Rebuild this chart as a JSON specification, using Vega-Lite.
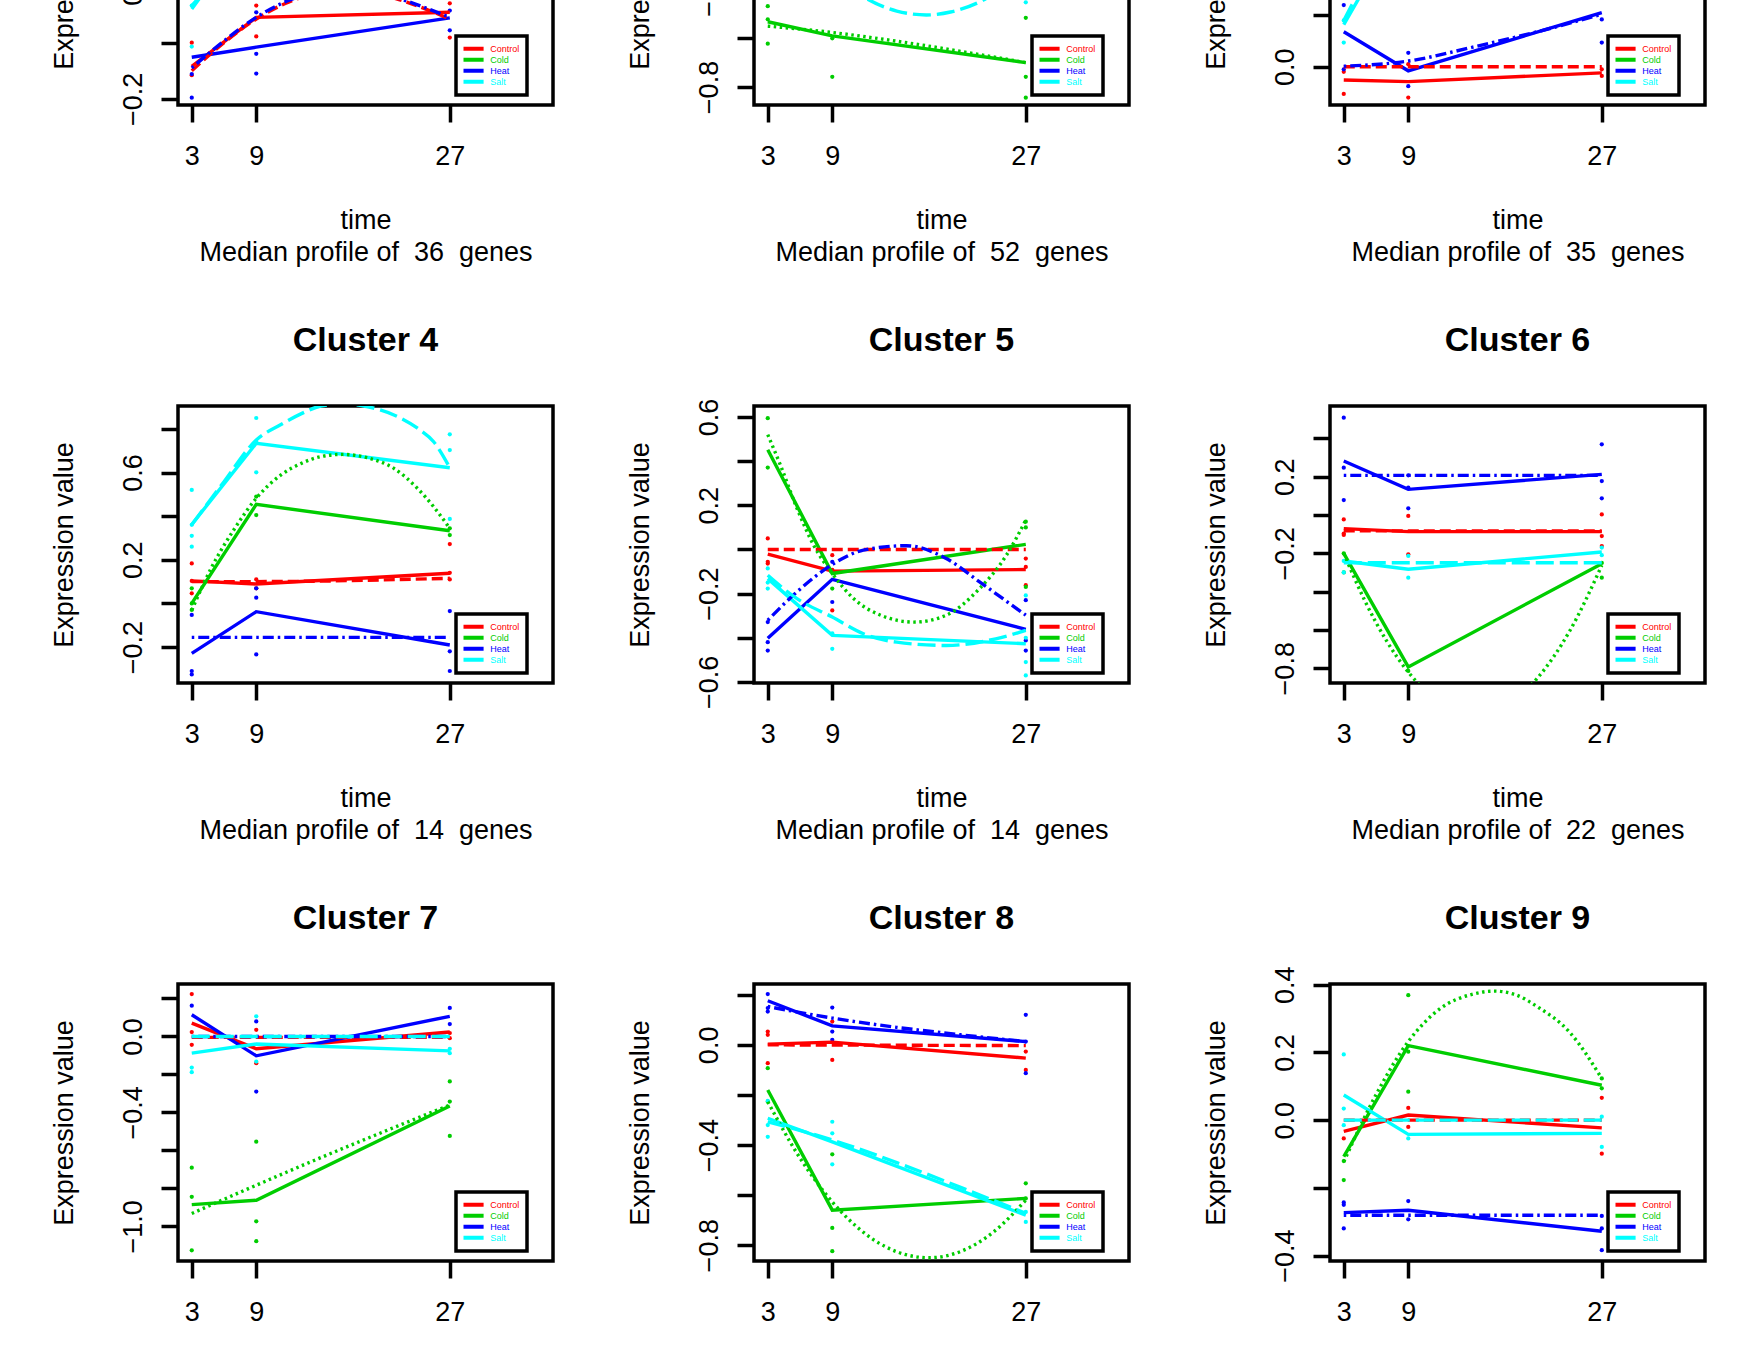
{
  "$schema": "https://vega.github.io/schema/vega-lite/v6.json",
  "background": "white",
  "padding": {"left": 48, "top": -256, "right": 59, "bottom": -31},
  "config": {
    "font": "Liberation Sans",
    "view": {"stroke": "black", "strokeWidth": 3.5},
    "title": {"font": "Liberation Sans", "fontSize": 34, "fontWeight": "bold", "color": "black", "anchor": "middle", "frame": "group", "baseline": "alphabetic", "offset": 48},
    "axis": {"domain": false, "grid": false, "tickSize": 17, "tickWidth": 3.5, "tickColor": "black", "labelFont": "Liberation Sans", "labelFontSize": 27, "labelColor": "black", "titleFont": "Liberation Sans", "titleFontSize": 27, "titleFontWeight": "normal", "titleColor": "black", "labelFlush": false, "labelOverlap": false},
    "axisX": {"labelPadding": 21, "titlePadding": 38, "titleLineHeight": 32},
    "axisY": {"labelAngle": -90, "labelAlign": "center", "labelBaseline": "alphabetic", "labelPadding": 20, "titlePadding": 40.6},
    "legend": {"orient": "none", "legendX": 278, "legendY": 208, "strokeColor": "black", "strokeWidth": 3.5, "fillColor": "white", "padding": 7.5, "symbolType": "M-3,0H7.8", "symbolSize": 16, "symbolStrokeWidth": 4, "labelFont": "Liberation Sans", "labelFontSize": 9, "labelOffset": 17.8, "rowPadding": 0, "clipHeight": 10.3}
  },
  "data": {"values": [
    {"c":1,"g":"Control","k":"mean","t":3,"v":-0.142},{"c":1,"g":"Control","k":"mean","t":9,"v":-0.055},{"c":1,"g":"Control","k":"mean","t":27,"v":-0.046},
    {"c":1,"g":"Cold","k":"mean","t":3,"v":0.06},{"c":1,"g":"Cold","k":"mean","t":9,"v":0.16},{"c":1,"g":"Cold","k":"mean","t":27,"v":0.12},
    {"c":1,"g":"Heat","k":"mean","t":3,"v":-0.126},{"c":1,"g":"Heat","k":"mean","t":9,"v":-0.108},{"c":1,"g":"Heat","k":"mean","t":27,"v":-0.056},
    {"c":1,"g":"Salt","k":"mean","t":3,"v":-0.034},{"c":1,"g":"Salt","k":"mean","t":9,"v":0.09},{"c":1,"g":"Salt","k":"mean","t":27,"v":0.05},
    {"c":1,"g":"Control","k":"fit","t":3,"v":-0.15},{"c":1,"g":"Control","k":"fit","t":6,"v":-0.1},{"c":1,"g":"Control","k":"fit","t":9,"v":-0.058},{"c":1,"g":"Control","k":"fit","t":12,"v":-0.028},{"c":1,"g":"Control","k":"fit","t":15,"v":-0.011},{"c":1,"g":"Control","k":"fit","t":17.5,"v":-0.007},{"c":1,"g":"Control","k":"fit","t":20,"v":-0.012},{"c":1,"g":"Control","k":"fit","t":23,"v":-0.028},{"c":1,"g":"Control","k":"fit","t":25,"v":-0.042},{"c":1,"g":"Control","k":"fit","t":27,"v":-0.058},
    {"c":1,"g":"Heat","k":"fit","t":3,"v":-0.145},{"c":1,"g":"Heat","k":"fit","t":6,"v":-0.097},{"c":1,"g":"Heat","k":"fit","t":9,"v":-0.055},{"c":1,"g":"Heat","k":"fit","t":12,"v":-0.025},{"c":1,"g":"Heat","k":"fit","t":15,"v":-0.009},{"c":1,"g":"Heat","k":"fit","t":17.5,"v":-0.005},{"c":1,"g":"Heat","k":"fit","t":20,"v":-0.01},{"c":1,"g":"Heat","k":"fit","t":23,"v":-0.026},{"c":1,"g":"Heat","k":"fit","t":25,"v":-0.04},{"c":1,"g":"Heat","k":"fit","t":27,"v":-0.055},
    {"c":1,"g":"Cold","k":"fit","t":3,"v":0.11},{"c":1,"g":"Cold","k":"fit","t":27,"v":0.11},
    {"c":1,"g":"Salt","k":"fit","t":3,"v":-0.04},{"c":1,"g":"Salt","k":"fit","t":9,"v":0.09},{"c":1,"g":"Salt","k":"fit","t":17,"v":0.14},{"c":1,"g":"Salt","k":"fit","t":27,"v":0.06},
    {"c":1,"g":"Control","k":"dot","t":3,"v":-0.1},{"c":1,"g":"Control","k":"dot","t":3,"v":-0.158},{"c":1,"g":"Control","k":"dot","t":9,"v":-0.034},{"c":1,"g":"Control","k":"dot","t":9,"v":-0.089},{"c":1,"g":"Control","k":"dot","t":27,"v":-0.091},{"c":1,"g":"Control","k":"dot","t":27,"v":-0.03},
    {"c":1,"g":"Heat","k":"dot","t":3,"v":-0.198},{"c":1,"g":"Heat","k":"dot","t":3,"v":-0.156},{"c":1,"g":"Heat","k":"dot","t":9,"v":-0.046},{"c":1,"g":"Heat","k":"dot","t":9,"v":-0.12},{"c":1,"g":"Heat","k":"dot","t":9,"v":-0.155},{"c":1,"g":"Heat","k":"dot","t":27,"v":-0.043},{"c":1,"g":"Heat","k":"dot","t":27,"v":-0.078},
    {"c":1,"g":"Salt","k":"dot","t":3,"v":-0.107},{"c":1,"g":"Salt","k":"dot","t":3,"v":-0.034},{"c":1,"g":"Salt","k":"dot","t":9,"v":0.1},{"c":1,"g":"Salt","k":"dot","t":27,"v":0.08},
    {"c":1,"g":"Cold","k":"dot","t":3,"v":0.05},{"c":1,"g":"Cold","k":"dot","t":3,"v":0.09},{"c":1,"g":"Cold","k":"dot","t":9,"v":0.15},{"c":1,"g":"Cold","k":"dot","t":27,"v":0.12},

    {"c":2,"g":"Control","k":"mean","t":3,"v":-0.47},{"c":2,"g":"Control","k":"mean","t":9,"v":-0.44},{"c":2,"g":"Control","k":"mean","t":27,"v":-0.46},
    {"c":2,"g":"Cold","k":"mean","t":3,"v":-0.666},{"c":2,"g":"Cold","k":"mean","t":9,"v":-0.695},{"c":2,"g":"Cold","k":"mean","t":27,"v":-0.75},
    {"c":2,"g":"Heat","k":"mean","t":3,"v":-0.38},{"c":2,"g":"Heat","k":"mean","t":9,"v":-0.42},{"c":2,"g":"Heat","k":"mean","t":27,"v":-0.36},
    {"c":2,"g":"Salt","k":"mean","t":3,"v":-0.41},{"c":2,"g":"Salt","k":"mean","t":9,"v":-0.56},{"c":2,"g":"Salt","k":"mean","t":27,"v":-0.55},
    {"c":2,"g":"Control","k":"fit","t":3,"v":-0.455},{"c":2,"g":"Control","k":"fit","t":27,"v":-0.455},
    {"c":2,"g":"Cold","k":"fit","t":3,"v":-0.675},{"c":2,"g":"Cold","k":"fit","t":9,"v":-0.688},{"c":2,"g":"Cold","k":"fit","t":15,"v":-0.706},{"c":2,"g":"Cold","k":"fit","t":21,"v":-0.727},{"c":2,"g":"Cold","k":"fit","t":27,"v":-0.75},
    {"c":2,"g":"Heat","k":"fit","t":3,"v":-0.39},{"c":2,"g":"Heat","k":"fit","t":27,"v":-0.39},
    {"c":2,"g":"Salt","k":"fit","t":3,"v":-0.41},{"c":2,"g":"Salt","k":"fit","t":6,"v":-0.5},{"c":2,"g":"Salt","k":"fit","t":9,"v":-0.567},{"c":2,"g":"Salt","k":"fit","t":12,"v":-0.616},{"c":2,"g":"Salt","k":"fit","t":15,"v":-0.644},{"c":2,"g":"Salt","k":"fit","t":17.75,"v":-0.652},{"c":2,"g":"Salt","k":"fit","t":20,"v":-0.646},{"c":2,"g":"Salt","k":"fit","t":23,"v":-0.622},{"c":2,"g":"Salt","k":"fit","t":25,"v":-0.594},{"c":2,"g":"Salt","k":"fit","t":27,"v":-0.558},
    {"c":2,"g":"Cold","k":"dot","t":3,"v":-0.634},{"c":2,"g":"Cold","k":"dot","t":3,"v":-0.661},{"c":2,"g":"Cold","k":"dot","t":3,"v":-0.711},{"c":2,"g":"Cold","k":"dot","t":9,"v":-0.7},{"c":2,"g":"Cold","k":"dot","t":9,"v":-0.779},{"c":2,"g":"Cold","k":"dot","t":27,"v":-0.658},{"c":2,"g":"Cold","k":"dot","t":27,"v":-0.779},{"c":2,"g":"Cold","k":"dot","t":27,"v":-0.822},
    {"c":2,"g":"Salt","k":"dot","t":3,"v":-0.38},{"c":2,"g":"Salt","k":"dot","t":9,"v":-0.55},{"c":2,"g":"Salt","k":"dot","t":27,"v":-0.626},{"c":2,"g":"Salt","k":"dot","t":27,"v":-0.5},
    {"c":2,"g":"Control","k":"dot","t":3,"v":-0.45},{"c":2,"g":"Control","k":"dot","t":9,"v":-0.43},{"c":2,"g":"Control","k":"dot","t":27,"v":-0.48},
    {"c":2,"g":"Heat","k":"dot","t":3,"v":-0.36},{"c":2,"g":"Heat","k":"dot","t":9,"v":-0.44},{"c":2,"g":"Heat","k":"dot","t":27,"v":-0.35},

    {"c":3,"g":"Control","k":"mean","t":3,"v":-0.026},{"c":3,"g":"Control","k":"mean","t":9,"v":-0.029},{"c":3,"g":"Control","k":"mean","t":27,"v":-0.012},
    {"c":3,"g":"Cold","k":"mean","t":3,"v":0.2},{"c":3,"g":"Cold","k":"mean","t":9,"v":0.35},{"c":3,"g":"Cold","k":"mean","t":27,"v":0.3},
    {"c":3,"g":"Heat","k":"mean","t":3,"v":0.068},{"c":3,"g":"Heat","k":"mean","t":9,"v":-0.008},{"c":3,"g":"Heat","k":"mean","t":27,"v":0.105},
    {"c":3,"g":"Salt","k":"mean","t":3,"v":0.082},{"c":3,"g":"Salt","k":"mean","t":9,"v":0.3},{"c":3,"g":"Salt","k":"mean","t":27,"v":0.25},
    {"c":3,"g":"Control","k":"fit","t":3,"v":0.0},{"c":3,"g":"Control","k":"fit","t":27,"v":0.0},
    {"c":3,"g":"Cold","k":"fit","t":3,"v":0.2},{"c":3,"g":"Cold","k":"fit","t":9,"v":0.34},{"c":3,"g":"Cold","k":"fit","t":17,"v":0.39},{"c":3,"g":"Cold","k":"fit","t":27,"v":0.3},
    {"c":3,"g":"Heat","k":"fit","t":3,"v":0.001},{"c":3,"g":"Heat","k":"fit","t":9,"v":0.011},{"c":3,"g":"Heat","k":"fit","t":15,"v":0.038},{"c":3,"g":"Heat","k":"fit","t":21,"v":0.068},{"c":3,"g":"Heat","k":"fit","t":27,"v":0.102},
    {"c":3,"g":"Salt","k":"fit","t":3,"v":0.09},{"c":3,"g":"Salt","k":"fit","t":9,"v":0.28},{"c":3,"g":"Salt","k":"fit","t":17,"v":0.34},{"c":3,"g":"Salt","k":"fit","t":27,"v":0.26},
    {"c":3,"g":"Control","k":"dot","t":3,"v":-0.053},{"c":3,"g":"Control","k":"dot","t":3,"v":-0.01},{"c":3,"g":"Control","k":"dot","t":9,"v":0.005},{"c":3,"g":"Control","k":"dot","t":9,"v":-0.06},{"c":3,"g":"Control","k":"dot","t":27,"v":-0.005},{"c":3,"g":"Control","k":"dot","t":27,"v":-0.018},
    {"c":3,"g":"Heat","k":"dot","t":3,"v":-0.005},{"c":3,"g":"Heat","k":"dot","t":3,"v":0.12},{"c":3,"g":"Heat","k":"dot","t":9,"v":0.027},{"c":3,"g":"Heat","k":"dot","t":9,"v":-0.038},{"c":3,"g":"Heat","k":"dot","t":27,"v":0.092},{"c":3,"g":"Heat","k":"dot","t":27,"v":0.047},
    {"c":3,"g":"Salt","k":"dot","t":3,"v":0.047},{"c":3,"g":"Salt","k":"dot","t":3,"v":0.09},{"c":3,"g":"Salt","k":"dot","t":9,"v":0.3},{"c":3,"g":"Salt","k":"dot","t":27,"v":0.25},
    {"c":3,"g":"Cold","k":"dot","t":3,"v":0.2},{"c":3,"g":"Cold","k":"dot","t":9,"v":0.35},{"c":3,"g":"Cold","k":"dot","t":27,"v":0.3},

    {"c":4,"g":"Control","k":"mean","t":3,"v":0.103},{"c":4,"g":"Control","k":"mean","t":9,"v":0.089},{"c":4,"g":"Control","k":"mean","t":27,"v":0.138},
    {"c":4,"g":"Cold","k":"mean","t":3,"v":0.0},{"c":4,"g":"Cold","k":"mean","t":9,"v":0.454},{"c":4,"g":"Cold","k":"mean","t":27,"v":0.333},
    {"c":4,"g":"Heat","k":"mean","t":3,"v":-0.229},{"c":4,"g":"Heat","k":"mean","t":9,"v":-0.038},{"c":4,"g":"Heat","k":"mean","t":27,"v":-0.191},
    {"c":4,"g":"Salt","k":"mean","t":3,"v":0.362},{"c":4,"g":"Salt","k":"mean","t":9,"v":0.734},{"c":4,"g":"Salt","k":"mean","t":27,"v":0.622},
    {"c":4,"g":"Control","k":"fit","t":3,"v":0.1},{"c":4,"g":"Control","k":"fit","t":9,"v":0.1},{"c":4,"g":"Control","k":"fit","t":27,"v":0.115},
    {"c":4,"g":"Cold","k":"fit","t":3,"v":-0.031},{"c":4,"g":"Cold","k":"fit","t":4.8,"v":0.161},{"c":4,"g":"Cold","k":"fit","t":7,"v":0.344},{"c":4,"g":"Cold","k":"fit","t":9,"v":0.482},{"c":4,"g":"Cold","k":"fit","t":11.3,"v":0.589},{"c":4,"g":"Cold","k":"fit","t":13.2,"v":0.642},{"c":4,"g":"Cold","k":"fit","t":15,"v":0.673},{"c":4,"g":"Cold","k":"fit","t":17,"v":0.683},{"c":4,"g":"Cold","k":"fit","t":19.3,"v":0.668},{"c":4,"g":"Cold","k":"fit","t":21.8,"v":0.619},{"c":4,"g":"Cold","k":"fit","t":24,"v":0.527},{"c":4,"g":"Cold","k":"fit","t":25.5,"v":0.443},{"c":4,"g":"Cold","k":"fit","t":27,"v":0.344},
    {"c":4,"g":"Heat","k":"fit","t":3,"v":-0.156},{"c":4,"g":"Heat","k":"fit","t":27,"v":-0.156},
    {"c":4,"g":"Salt","k":"fit","t":3,"v":0.36},{"c":4,"g":"Salt","k":"fit","t":6,"v":0.558},{"c":4,"g":"Salt","k":"fit","t":9,"v":0.749},{"c":4,"g":"Salt","k":"fit","t":11.3,"v":0.82},{"c":4,"g":"Salt","k":"fit","t":13.2,"v":0.87},{"c":4,"g":"Salt","k":"fit","t":15,"v":0.905},{"c":4,"g":"Salt","k":"fit","t":17,"v":0.915},{"c":4,"g":"Salt","k":"fit","t":19,"v":0.905},{"c":4,"g":"Salt","k":"fit","t":21.8,"v":0.864},{"c":4,"g":"Salt","k":"fit","t":24,"v":0.803},{"c":4,"g":"Salt","k":"fit","t":25.5,"v":0.741},{"c":4,"g":"Salt","k":"fit","t":27,"v":0.622},
    {"c":4,"g":"Control","k":"dot","t":3,"v":0.183},{"c":4,"g":"Control","k":"dot","t":3,"v":0.103},{"c":4,"g":"Control","k":"dot","t":3,"v":0.046},{"c":4,"g":"Control","k":"dot","t":9,"v":0.11},{"c":4,"g":"Control","k":"dot","t":9,"v":0.069},{"c":4,"g":"Control","k":"dot","t":27,"v":0.272},{"c":4,"g":"Control","k":"dot","t":27,"v":0.14},{"c":4,"g":"Control","k":"dot","t":27,"v":0.11},
    {"c":4,"g":"Cold","k":"dot","t":3,"v":0.069},{"c":4,"g":"Cold","k":"dot","t":3,"v":0.0},{"c":4,"g":"Cold","k":"dot","t":3,"v":-0.03},{"c":4,"g":"Cold","k":"dot","t":9,"v":0.49},{"c":4,"g":"Cold","k":"dot","t":9,"v":0.405},{"c":4,"g":"Cold","k":"dot","t":27,"v":0.344},{"c":4,"g":"Cold","k":"dot","t":27,"v":0.313},
    {"c":4,"g":"Heat","k":"dot","t":3,"v":-0.053},{"c":4,"g":"Heat","k":"dot","t":3,"v":-0.31},{"c":4,"g":"Heat","k":"dot","t":3,"v":-0.326},{"c":4,"g":"Heat","k":"dot","t":9,"v":0.069},{"c":4,"g":"Heat","k":"dot","t":9,"v":0.026},{"c":4,"g":"Heat","k":"dot","t":9,"v":-0.234},{"c":4,"g":"Heat","k":"dot","t":27,"v":-0.035},{"c":4,"g":"Heat","k":"dot","t":27,"v":-0.22},{"c":4,"g":"Heat","k":"dot","t":27,"v":-0.31},
    {"c":4,"g":"Salt","k":"dot","t":3,"v":0.52},{"c":4,"g":"Salt","k":"dot","t":3,"v":0.36},{"c":4,"g":"Salt","k":"dot","t":3,"v":0.31},{"c":4,"g":"Salt","k":"dot","t":3,"v":0.26},{"c":4,"g":"Salt","k":"dot","t":9,"v":0.85},{"c":4,"g":"Salt","k":"dot","t":9,"v":0.601},{"c":4,"g":"Salt","k":"dot","t":9,"v":0.74},{"c":4,"g":"Salt","k":"dot","t":27,"v":0.775},{"c":4,"g":"Salt","k":"dot","t":27,"v":0.703},{"c":4,"g":"Salt","k":"dot","t":27,"v":0.387},

    {"c":5,"g":"Control","k":"mean","t":3,"v":-0.021},{"c":5,"g":"Control","k":"mean","t":9,"v":-0.098},{"c":5,"g":"Control","k":"mean","t":27,"v":-0.091},
    {"c":5,"g":"Cold","k":"mean","t":3,"v":0.452},{"c":5,"g":"Cold","k":"mean","t":9,"v":-0.109},{"c":5,"g":"Cold","k":"mean","t":27,"v":0.023},
    {"c":5,"g":"Heat","k":"mean","t":3,"v":-0.402},{"c":5,"g":"Heat","k":"mean","t":9,"v":-0.135},{"c":5,"g":"Heat","k":"mean","t":27,"v":-0.362},
    {"c":5,"g":"Salt","k":"mean","t":3,"v":-0.132},{"c":5,"g":"Salt","k":"mean","t":9,"v":-0.389},{"c":5,"g":"Salt","k":"mean","t":27,"v":-0.427},
    {"c":5,"g":"Control","k":"fit","t":3,"v":0.0},{"c":5,"g":"Control","k":"fit","t":27,"v":0.0},
    {"c":5,"g":"Cold","k":"fit","t":3,"v":0.52},{"c":5,"g":"Cold","k":"fit","t":4.17,"v":0.383},{"c":5,"g":"Cold","k":"fit","t":5.72,"v":0.186},{"c":5,"g":"Cold","k":"fit","t":7.26,"v":0.02},{"c":5,"g":"Cold","k":"fit","t":9,"v":-0.109},{"c":5,"g":"Cold","k":"fit","t":11,"v":-0.223},{"c":5,"g":"Cold","k":"fit","t":13.5,"v":-0.298},{"c":5,"g":"Cold","k":"fit","t":16.6,"v":-0.329},{"c":5,"g":"Cold","k":"fit","t":19.6,"v":-0.298},{"c":5,"g":"Cold","k":"fit","t":22.7,"v":-0.177},{"c":5,"g":"Cold","k":"fit","t":25.2,"v":-0.026},{"c":5,"g":"Cold","k":"fit","t":27,"v":0.133},
    {"c":5,"g":"Heat","k":"fit","t":3,"v":-0.321},{"c":5,"g":"Heat","k":"fit","t":5.72,"v":-0.192},{"c":5,"g":"Heat","k":"fit","t":9,"v":-0.068},{"c":5,"g":"Heat","k":"fit","t":11.9,"v":-0.003},{"c":5,"g":"Heat","k":"fit","t":15.9,"v":0.017},{"c":5,"g":"Heat","k":"fit","t":19.6,"v":-0.041},{"c":5,"g":"Heat","k":"fit","t":22.7,"v":-0.147},{"c":5,"g":"Heat","k":"fit","t":27,"v":-0.298},
    {"c":5,"g":"Salt","k":"fit","t":3,"v":-0.117},{"c":5,"g":"Salt","k":"fit","t":5.72,"v":-0.223},{"c":5,"g":"Salt","k":"fit","t":9,"v":-0.306},{"c":5,"g":"Salt","k":"fit","t":11.9,"v":-0.382},{"c":5,"g":"Salt","k":"fit","t":15,"v":-0.42},{"c":5,"g":"Salt","k":"fit","t":19.6,"v":-0.435},{"c":5,"g":"Salt","k":"fit","t":24.2,"v":-0.405},{"c":5,"g":"Salt","k":"fit","t":27,"v":-0.367},
    {"c":5,"g":"Control","k":"dot","t":3,"v":0.05},{"c":5,"g":"Control","k":"dot","t":3,"v":-0.056},{"c":5,"g":"Control","k":"dot","t":3,"v":-0.064},{"c":5,"g":"Control","k":"dot","t":9,"v":-0.026},{"c":5,"g":"Control","k":"dot","t":9,"v":-0.092},{"c":5,"g":"Control","k":"dot","t":9,"v":-0.276},{"c":5,"g":"Control","k":"dot","t":27,"v":-0.041},{"c":5,"g":"Control","k":"dot","t":27,"v":-0.079},{"c":5,"g":"Control","k":"dot","t":27,"v":-0.162},
    {"c":5,"g":"Cold","k":"dot","t":3,"v":0.595},{"c":5,"g":"Cold","k":"dot","t":3,"v":0.371},{"c":5,"g":"Cold","k":"dot","t":9,"v":-0.177},{"c":5,"g":"Cold","k":"dot","t":9,"v":-0.1},{"c":5,"g":"Cold","k":"dot","t":27,"v":-0.17},{"c":5,"g":"Cold","k":"dot","t":27,"v":0.126},{"c":5,"g":"Cold","k":"dot","t":27,"v":0.1},
    {"c":5,"g":"Heat","k":"dot","t":3,"v":-0.329},{"c":5,"g":"Heat","k":"dot","t":3,"v":-0.42},{"c":5,"g":"Heat","k":"dot","t":3,"v":-0.458},{"c":5,"g":"Heat","k":"dot","t":9,"v":-0.056},{"c":5,"g":"Heat","k":"dot","t":9,"v":-0.238},{"c":5,"g":"Heat","k":"dot","t":27,"v":-0.23},{"c":5,"g":"Heat","k":"dot","t":27,"v":-0.412},{"c":5,"g":"Heat","k":"dot","t":27,"v":-0.458},
    {"c":5,"g":"Salt","k":"dot","t":3,"v":-0.086},{"c":5,"g":"Salt","k":"dot","t":3,"v":-0.177},{"c":5,"g":"Salt","k":"dot","t":3,"v":-0.15},{"c":5,"g":"Salt","k":"dot","t":9,"v":-0.45},{"c":5,"g":"Salt","k":"dot","t":9,"v":-0.38},{"c":5,"g":"Salt","k":"dot","t":27,"v":-0.51},{"c":5,"g":"Salt","k":"dot","t":27,"v":-0.571},{"c":5,"g":"Salt","k":"dot","t":27,"v":-0.208},{"c":5,"g":"Salt","k":"dot","t":27,"v":-0.4},

    {"c":6,"g":"Control","k":"mean","t":3,"v":-0.071},{"c":6,"g":"Control","k":"mean","t":9,"v":-0.087},{"c":6,"g":"Control","k":"mean","t":27,"v":-0.087},
    {"c":6,"g":"Cold","k":"mean","t":3,"v":-0.2},{"c":6,"g":"Cold","k":"mean","t":9,"v":-0.793},{"c":6,"g":"Cold","k":"mean","t":27,"v":-0.254},
    {"c":6,"g":"Heat","k":"mean","t":3,"v":0.282},{"c":6,"g":"Heat","k":"mean","t":9,"v":0.134},{"c":6,"g":"Heat","k":"mean","t":27,"v":0.212},
    {"c":6,"g":"Salt","k":"mean","t":3,"v":-0.24},{"c":6,"g":"Salt","k":"mean","t":9,"v":-0.283},{"c":6,"g":"Salt","k":"mean","t":27,"v":-0.193},
    {"c":6,"g":"Control","k":"fit","t":3,"v":-0.083},{"c":6,"g":"Control","k":"fit","t":27,"v":-0.083},
    {"c":6,"g":"Cold","k":"fit","t":3,"v":-0.2},{"c":6,"g":"Cold","k":"fit","t":5,"v":-0.452},{"c":6,"g":"Cold","k":"fit","t":7,"v":-0.659},{"c":6,"g":"Cold","k":"fit","t":9,"v":-0.82},{"c":6,"g":"Cold","k":"fit","t":12,"v":-0.98},{"c":6,"g":"Cold","k":"fit","t":15,"v":-1.038},{"c":6,"g":"Cold","k":"fit","t":18,"v":-0.996},{"c":6,"g":"Cold","k":"fit","t":21,"v":-0.852},{"c":6,"g":"Cold","k":"fit","t":24,"v":-0.607},{"c":6,"g":"Cold","k":"fit","t":27,"v":-0.263},
    {"c":6,"g":"Heat","k":"fit","t":3,"v":0.207},{"c":6,"g":"Heat","k":"fit","t":27,"v":0.207},
    {"c":6,"g":"Salt","k":"fit","t":3,"v":-0.249},{"c":6,"g":"Salt","k":"fit","t":27,"v":-0.249},
    {"c":6,"g":"Control","k":"dot","t":3,"v":-0.023},{"c":6,"g":"Control","k":"dot","t":3,"v":-0.097},{"c":6,"g":"Control","k":"dot","t":3,"v":-0.104},{"c":6,"g":"Control","k":"dot","t":9,"v":-0.005},{"c":6,"g":"Control","k":"dot","t":9,"v":-0.205},{"c":6,"g":"Control","k":"dot","t":27,"v":0.003},{"c":6,"g":"Control","k":"dot","t":27,"v":-0.11},{"c":6,"g":"Control","k":"dot","t":27,"v":-0.162},
    {"c":6,"g":"Cold","k":"dot","t":3,"v":-0.2},{"c":6,"g":"Cold","k":"dot","t":3,"v":-0.3},{"c":6,"g":"Cold","k":"dot","t":9,"v":-0.814},{"c":6,"g":"Cold","k":"dot","t":27,"v":-0.327},{"c":6,"g":"Cold","k":"dot","t":27,"v":-0.25},
    {"c":6,"g":"Heat","k":"dot","t":3,"v":0.508},{"c":6,"g":"Heat","k":"dot","t":3,"v":0.247},{"c":6,"g":"Heat","k":"dot","t":3,"v":0.078},{"c":6,"g":"Heat","k":"dot","t":9,"v":0.207},{"c":6,"g":"Heat","k":"dot","t":9,"v":0.143},{"c":6,"g":"Heat","k":"dot","t":9,"v":0.035},{"c":6,"g":"Heat","k":"dot","t":27,"v":0.369},{"c":6,"g":"Heat","k":"dot","t":27,"v":0.177},{"c":6,"g":"Heat","k":"dot","t":27,"v":0.087},
    {"c":6,"g":"Salt","k":"dot","t":3,"v":-0.3},{"c":6,"g":"Salt","k":"dot","t":3,"v":-0.24},{"c":6,"g":"Salt","k":"dot","t":9,"v":-0.327},{"c":6,"g":"Salt","k":"dot","t":9,"v":-0.214},{"c":6,"g":"Salt","k":"dot","t":27,"v":-0.17},{"c":6,"g":"Salt","k":"dot","t":27,"v":-0.21},

    {"c":7,"g":"Control","k":"mean","t":3,"v":0.07},{"c":7,"g":"Control","k":"mean","t":9,"v":-0.065},{"c":7,"g":"Control","k":"mean","t":27,"v":0.023},
    {"c":7,"g":"Cold","k":"mean","t":3,"v":-0.885},{"c":7,"g":"Cold","k":"mean","t":9,"v":-0.862},{"c":7,"g":"Cold","k":"mean","t":27,"v":-0.366},
    {"c":7,"g":"Heat","k":"mean","t":3,"v":0.114},{"c":7,"g":"Heat","k":"mean","t":9,"v":-0.102},{"c":7,"g":"Heat","k":"mean","t":27,"v":0.106},
    {"c":7,"g":"Salt","k":"mean","t":3,"v":-0.088},{"c":7,"g":"Salt","k":"mean","t":9,"v":-0.04},{"c":7,"g":"Salt","k":"mean","t":27,"v":-0.076},
    {"c":7,"g":"Control","k":"fit","t":3,"v":-0.005},{"c":7,"g":"Control","k":"fit","t":27,"v":-0.005},
    {"c":7,"g":"Cold","k":"fit","t":3,"v":-0.932},{"c":7,"g":"Cold","k":"fit","t":9,"v":-0.783},{"c":7,"g":"Cold","k":"fit","t":15,"v":-0.638},{"c":7,"g":"Cold","k":"fit","t":21,"v":-0.498},{"c":7,"g":"Cold","k":"fit","t":27,"v":-0.361},
    {"c":7,"g":"Heat","k":"fit","t":3,"v":0.0},{"c":7,"g":"Heat","k":"fit","t":27,"v":0.0},
    {"c":7,"g":"Salt","k":"fit","t":3,"v":0.0},{"c":7,"g":"Salt","k":"fit","t":27,"v":0.0},
    {"c":7,"g":"Control","k":"dot","t":3,"v":0.223},{"c":7,"g":"Control","k":"dot","t":3,"v":0.023},{"c":7,"g":"Control","k":"dot","t":3,"v":-0.044},{"c":7,"g":"Control","k":"dot","t":9,"v":0.035},{"c":7,"g":"Control","k":"dot","t":9,"v":-0.141},{"c":7,"g":"Control","k":"dot","t":27,"v":0.018},{"c":7,"g":"Control","k":"dot","t":27,"v":-0.009},
    {"c":7,"g":"Cold","k":"dot","t":3,"v":-0.691},{"c":7,"g":"Cold","k":"dot","t":3,"v":-0.844},{"c":7,"g":"Cold","k":"dot","t":3,"v":-1.126},{"c":7,"g":"Cold","k":"dot","t":9,"v":-0.554},{"c":7,"g":"Cold","k":"dot","t":9,"v":-0.973},{"c":7,"g":"Cold","k":"dot","t":9,"v":-1.078},{"c":7,"g":"Cold","k":"dot","t":27,"v":-0.237},{"c":7,"g":"Cold","k":"dot","t":27,"v":-0.343},{"c":7,"g":"Cold","k":"dot","t":27,"v":-0.524},
    {"c":7,"g":"Heat","k":"dot","t":3,"v":0.162},{"c":7,"g":"Heat","k":"dot","t":9,"v":0.079},{"c":7,"g":"Heat","k":"dot","t":9,"v":-0.29},{"c":7,"g":"Heat","k":"dot","t":27,"v":0.15},{"c":7,"g":"Heat","k":"dot","t":27,"v":0.065},
    {"c":7,"g":"Salt","k":"dot","t":3,"v":-0.164},{"c":7,"g":"Salt","k":"dot","t":3,"v":-0.188},{"c":7,"g":"Salt","k":"dot","t":9,"v":0.106},{"c":7,"g":"Salt","k":"dot","t":9,"v":-0.132},{"c":7,"g":"Salt","k":"dot","t":27,"v":-0.065},{"c":7,"g":"Salt","k":"dot","t":27,"v":-0.088},

    {"c":8,"g":"Control","k":"mean","t":3,"v":0.003},{"c":8,"g":"Control","k":"mean","t":9,"v":0.011},{"c":8,"g":"Control","k":"mean","t":27,"v":-0.053},
    {"c":8,"g":"Cold","k":"mean","t":3,"v":-0.18},{"c":8,"g":"Cold","k":"mean","t":9,"v":-0.66},{"c":8,"g":"Cold","k":"mean","t":27,"v":-0.613},
    {"c":8,"g":"Heat","k":"mean","t":3,"v":0.176},{"c":8,"g":"Heat","k":"mean","t":9,"v":0.076},{"c":8,"g":"Heat","k":"mean","t":27,"v":0.013},
    {"c":8,"g":"Salt","k":"mean","t":3,"v":-0.293},{"c":8,"g":"Salt","k":"mean","t":9,"v":-0.387},{"c":8,"g":"Salt","k":"mean","t":27,"v":-0.68},
    {"c":8,"g":"Control","k":"fit","t":3,"v":0.0},{"c":8,"g":"Control","k":"fit","t":27,"v":-0.003},
    {"c":8,"g":"Cold","k":"fit","t":3,"v":-0.227},{"c":8,"g":"Cold","k":"fit","t":6,"v":-0.452},{"c":8,"g":"Cold","k":"fit","t":9,"v":-0.627},{"c":8,"g":"Cold","k":"fit","t":12,"v":-0.752},{"c":8,"g":"Cold","k":"fit","t":15,"v":-0.826},{"c":8,"g":"Cold","k":"fit","t":18,"v":-0.85},{"c":8,"g":"Cold","k":"fit","t":21,"v":-0.824},{"c":8,"g":"Cold","k":"fit","t":24,"v":-0.747},{"c":8,"g":"Cold","k":"fit","t":27,"v":-0.62},
    {"c":8,"g":"Heat","k":"fit","t":3,"v":0.153},{"c":8,"g":"Heat","k":"fit","t":9,"v":0.107},{"c":8,"g":"Heat","k":"fit","t":15,"v":0.07},{"c":8,"g":"Heat","k":"fit","t":21,"v":0.04},{"c":8,"g":"Heat","k":"fit","t":27,"v":0.013},
    {"c":8,"g":"Salt","k":"fit","t":3,"v":-0.307},{"c":8,"g":"Salt","k":"fit","t":9,"v":-0.38},{"c":8,"g":"Salt","k":"fit","t":15,"v":-0.47},{"c":8,"g":"Salt","k":"fit","t":21,"v":-0.57},{"c":8,"g":"Salt","k":"fit","t":27,"v":-0.673},
    {"c":8,"g":"Control","k":"dot","t":3,"v":0.053},{"c":8,"g":"Control","k":"dot","t":3,"v":0.04},{"c":8,"g":"Control","k":"dot","t":3,"v":-0.073},{"c":8,"g":"Control","k":"dot","t":9,"v":0.093},{"c":8,"g":"Control","k":"dot","t":9,"v":-0.06},{"c":8,"g":"Control","k":"dot","t":27,"v":-0.027},{"c":8,"g":"Control","k":"dot","t":27,"v":-0.1},
    {"c":8,"g":"Cold","k":"dot","t":3,"v":-0.093},{"c":8,"g":"Cold","k":"dot","t":3,"v":-0.227},{"c":8,"g":"Cold","k":"dot","t":9,"v":-0.437},{"c":8,"g":"Cold","k":"dot","t":9,"v":-0.731},{"c":8,"g":"Cold","k":"dot","t":9,"v":-0.824},{"c":8,"g":"Cold","k":"dot","t":27,"v":-0.553},{"c":8,"g":"Cold","k":"dot","t":27,"v":-0.613},
    {"c":8,"g":"Heat","k":"dot","t":3,"v":0.203},{"c":8,"g":"Heat","k":"dot","t":3,"v":0.133},{"c":8,"g":"Heat","k":"dot","t":3,"v":0.147},{"c":8,"g":"Heat","k":"dot","t":9,"v":0.149},{"c":8,"g":"Heat","k":"dot","t":9,"v":0.053},{"c":8,"g":"Heat","k":"dot","t":9,"v":0.02},{"c":8,"g":"Heat","k":"dot","t":27,"v":0.12},{"c":8,"g":"Heat","k":"dot","t":27,"v":-0.113},{"c":8,"g":"Heat","k":"dot","t":27,"v":0.013},
    {"c":8,"g":"Salt","k":"dot","t":3,"v":-0.224},{"c":8,"g":"Salt","k":"dot","t":3,"v":-0.32},{"c":8,"g":"Salt","k":"dot","t":3,"v":-0.367},{"c":8,"g":"Salt","k":"dot","t":9,"v":-0.307},{"c":8,"g":"Salt","k":"dot","t":9,"v":-0.353},{"c":8,"g":"Salt","k":"dot","t":9,"v":-0.477},{"c":8,"g":"Salt","k":"dot","t":27,"v":-0.667},{"c":8,"g":"Salt","k":"dot","t":27,"v":-0.707},

    {"c":9,"g":"Control","k":"mean","t":3,"v":-0.033},{"c":9,"g":"Control","k":"mean","t":9,"v":0.015},{"c":9,"g":"Control","k":"mean","t":27,"v":-0.023},
    {"c":9,"g":"Cold","k":"mean","t":3,"v":-0.108},{"c":9,"g":"Cold","k":"mean","t":9,"v":0.22},{"c":9,"g":"Cold","k":"mean","t":27,"v":0.103},
    {"c":9,"g":"Heat","k":"mean","t":3,"v":-0.273},{"c":9,"g":"Heat","k":"mean","t":9,"v":-0.266},{"c":9,"g":"Heat","k":"mean","t":27,"v":-0.328},
    {"c":9,"g":"Salt","k":"mean","t":3,"v":0.074},{"c":9,"g":"Salt","k":"mean","t":9,"v":-0.042},{"c":9,"g":"Salt","k":"mean","t":27,"v":-0.039},
    {"c":9,"g":"Control","k":"fit","t":3,"v":0.0},{"c":9,"g":"Control","k":"fit","t":27,"v":0.0},
    {"c":9,"g":"Cold","k":"fit","t":3,"v":-0.123},{"c":9,"g":"Cold","k":"fit","t":6,"v":0.075},{"c":9,"g":"Cold","k":"fit","t":9,"v":0.232},{"c":9,"g":"Cold","k":"fit","t":12,"v":0.33},{"c":9,"g":"Cold","k":"fit","t":15,"v":0.372},{"c":9,"g":"Cold","k":"fit","t":17,"v":0.381},{"c":9,"g":"Cold","k":"fit","t":19,"v":0.37},{"c":9,"g":"Cold","k":"fit","t":21,"v":0.335},{"c":9,"g":"Cold","k":"fit","t":24,"v":0.26},{"c":9,"g":"Cold","k":"fit","t":27,"v":0.123},
    {"c":9,"g":"Heat","k":"fit","t":3,"v":-0.281},{"c":9,"g":"Heat","k":"fit","t":27,"v":-0.281},
    {"c":9,"g":"Salt","k":"fit","t":3,"v":0.0},{"c":9,"g":"Salt","k":"fit","t":27,"v":0.0},
    {"c":9,"g":"Control","k":"dot","t":3,"v":-0.054},{"c":9,"g":"Control","k":"dot","t":9,"v":0.036},{"c":9,"g":"Control","k":"dot","t":9,"v":-0.02},{"c":9,"g":"Control","k":"dot","t":27,"v":0.066},{"c":9,"g":"Control","k":"dot","t":27,"v":-0.099},
    {"c":9,"g":"Cold","k":"dot","t":3,"v":-0.121},{"c":9,"g":"Cold","k":"dot","t":3,"v":-0.177},{"c":9,"g":"Cold","k":"dot","t":9,"v":0.369},{"c":9,"g":"Cold","k":"dot","t":9,"v":0.202},{"c":9,"g":"Cold","k":"dot","t":9,"v":0.084},{"c":9,"g":"Cold","k":"dot","t":27,"v":0.123},{"c":9,"g":"Cold","k":"dot","t":27,"v":0.094},
    {"c":9,"g":"Heat","k":"dot","t":3,"v":-0.243},{"c":9,"g":"Heat","k":"dot","t":3,"v":-0.25},{"c":9,"g":"Heat","k":"dot","t":3,"v":-0.32},{"c":9,"g":"Heat","k":"dot","t":9,"v":-0.239},{"c":9,"g":"Heat","k":"dot","t":9,"v":-0.293},{"c":9,"g":"Heat","k":"dot","t":27,"v":-0.283},{"c":9,"g":"Heat","k":"dot","t":27,"v":-0.32},{"c":9,"g":"Heat","k":"dot","t":27,"v":-0.384},
    {"c":9,"g":"Salt","k":"dot","t":3,"v":0.194},{"c":9,"g":"Salt","k":"dot","t":3,"v":0.034},{"c":9,"g":"Salt","k":"dot","t":3,"v":-0.015},{"c":9,"g":"Salt","k":"dot","t":9,"v":-0.054},{"c":9,"g":"Salt","k":"dot","t":27,"v":0.01},{"c":9,"g":"Salt","k":"dot","t":27,"v":-0.079}
  ]},
  "columns": 3,
  "spacing": {"row": 301, "column": 201},
  "bounds": "flush",
  "resolve": {"scale": {"x": "independent", "y": "independent"}, "legend": {"color": "independent"}},
  "concat": [
    {"title": "Cluster 1", "width": 375, "height": 277, "transform": [{"filter": "datum.c == 1"}],
     "encoding": {
       "x": {"field": "t", "type": "quantitative", "scale": {"domain": [1.72, 36.6], "nice": false, "zero": false}, "axis": {"values": [3, 9, 27], "title": ["time", "Median profile of\u00a0 36\u00a0 genes"]}},
       "y": {"field": "v", "type": "quantitative", "scale": {"domain": [-0.211, 0.282], "nice": false, "zero": false}, "axis": {"title": "Expression value", "values": [-0.2, -0.1, 0, 0.1, 0.2], "format": ".1f", "labelExpr": "datum.value == -0.2 || datum.value == 0 || datum.value == 0.2 ? datum.label : ''"}},
       "color": {"field": "g", "type": "nominal", "scale": {"domain": ["Control", "Cold", "Heat", "Salt"], "range": ["#ff0000", "#00cd00", "#0000ff", "#00ffff"]}, "legend": {"title": null, "labelColor": {"expr": "datum.value == 'Control' ? '#ff0000' : datum.value == 'Cold' ? '#00cd00' : datum.value == 'Heat' ? '#0000ff' : '#00ffff'"}}}
     },
     "layer": [
       {"transform": [{"filter": "datum.k == 'dot'"}], "mark": {"type": "circle", "size": 18, "opacity": 1, "clip": true}},
       {"transform": [{"filter": "datum.k == 'mean'"}], "mark": {"type": "line", "strokeWidth": 3.4, "clip": true}},
       {"transform": [{"filter": "datum.k == 'fit'"}], "mark": {"type": "line", "interpolate": "monotone", "strokeWidth": 3.4, "clip": true}, "encoding": {"strokeDash": {"field": "g", "type": "nominal", "scale": {"domain": ["Control", "Cold", "Heat", "Salt"], "range": [[11, 5], [2.5, 3.5], [2.5, 4, 11, 4], [18, 6]]}, "legend": null}}}
     ]},
    {"title": "Cluster 2", "width": 375, "height": 277, "transform": [{"filter": "datum.c == 2"}],
     "encoding": {
       "x": {"field": "t", "type": "quantitative", "scale": {"domain": [1.72, 36.6], "nice": false, "zero": false}, "axis": {"values": [3, 9, 27], "title": ["time", "Median profile of\u00a0 52\u00a0 genes"]}},
       "y": {"field": "v", "type": "quantitative", "scale": {"domain": [-0.837, -0.268], "nice": false, "zero": false}, "axis": {"title": "Expression value", "values": [-0.8, -0.7, -0.6, -0.5, -0.4, -0.3], "format": ".1f", "labelExpr": "datum.value == -0.8 || datum.value == -0.6 || datum.value == -0.4 ? datum.label : ''"}},
       "color": {"field": "g", "type": "nominal", "scale": {"domain": ["Control", "Cold", "Heat", "Salt"], "range": ["#ff0000", "#00cd00", "#0000ff", "#00ffff"]}, "legend": {"title": null, "labelColor": {"expr": "datum.value == 'Control' ? '#ff0000' : datum.value == 'Cold' ? '#00cd00' : datum.value == 'Heat' ? '#0000ff' : '#00ffff'"}}}
     },
     "layer": [
       {"transform": [{"filter": "datum.k == 'dot'"}], "mark": {"type": "circle", "size": 18, "opacity": 1, "clip": true}},
       {"transform": [{"filter": "datum.k == 'mean'"}], "mark": {"type": "line", "strokeWidth": 3.4, "clip": true}},
       {"transform": [{"filter": "datum.k == 'fit'"}], "mark": {"type": "line", "interpolate": "monotone", "strokeWidth": 3.4, "clip": true}, "encoding": {"strokeDash": {"field": "g", "type": "nominal", "scale": {"domain": ["Control", "Cold", "Heat", "Salt"], "range": [[11, 5], [2.5, 3.5], [2.5, 4, 11, 4], [18, 6]]}, "legend": null}}}
     ]},
    {"title": "Cluster 3", "width": 375, "height": 277, "transform": [{"filter": "datum.c == 3"}],
     "encoding": {
       "x": {"field": "t", "type": "quantitative", "scale": {"domain": [1.72, 36.6], "nice": false, "zero": false}, "axis": {"values": [3, 9, 27], "title": ["time", "Median profile of\u00a0 35\u00a0 genes"]}},
       "y": {"field": "v", "type": "quantitative", "scale": {"domain": [-0.0745, 0.4644], "nice": false, "zero": false}, "axis": {"title": "Expression value", "values": [0, 0.1, 0.2, 0.3, 0.4], "format": ".1f", "labelExpr": "datum.value == 0 || datum.value == 0.2 || datum.value == 0.4 ? datum.label : ''"}},
       "color": {"field": "g", "type": "nominal", "scale": {"domain": ["Control", "Cold", "Heat", "Salt"], "range": ["#ff0000", "#00cd00", "#0000ff", "#00ffff"]}, "legend": {"title": null, "labelColor": {"expr": "datum.value == 'Control' ? '#ff0000' : datum.value == 'Cold' ? '#00cd00' : datum.value == 'Heat' ? '#0000ff' : '#00ffff'"}}}
     },
     "layer": [
       {"transform": [{"filter": "datum.k == 'dot'"}], "mark": {"type": "circle", "size": 18, "opacity": 1, "clip": true}},
       {"transform": [{"filter": "datum.k == 'mean'"}], "mark": {"type": "line", "strokeWidth": 3.4, "clip": true}},
       {"transform": [{"filter": "datum.k == 'fit'"}], "mark": {"type": "line", "interpolate": "monotone", "strokeWidth": 3.4, "clip": true}, "encoding": {"strokeDash": {"field": "g", "type": "nominal", "scale": {"domain": ["Control", "Cold", "Heat", "Salt"], "range": [[11, 5], [2.5, 3.5], [2.5, 4, 11, 4], [18, 6]]}, "legend": null}}}
     ]},
    {"title": "Cluster 4", "width": 375, "height": 277, "transform": [{"filter": "datum.c == 4"}],
     "encoding": {
       "x": {"field": "t", "type": "quantitative", "scale": {"domain": [1.72, 36.6], "nice": false, "zero": false}, "axis": {"values": [3, 9, 27], "title": ["time", "Median profile of\u00a0 14\u00a0 genes"]}},
       "y": {"field": "v", "type": "quantitative", "scale": {"domain": [-0.365, 0.905], "nice": false, "zero": false}, "axis": {"title": "Expression value", "values": [-0.2, 0, 0.2, 0.4, 0.6, 0.8], "format": ".1f", "labelExpr": "datum.value == -0.2 || datum.value == 0.2 || datum.value == 0.6 ? datum.label : ''"}},
       "color": {"field": "g", "type": "nominal", "scale": {"domain": ["Control", "Cold", "Heat", "Salt"], "range": ["#ff0000", "#00cd00", "#0000ff", "#00ffff"]}, "legend": {"title": null, "labelColor": {"expr": "datum.value == 'Control' ? '#ff0000' : datum.value == 'Cold' ? '#00cd00' : datum.value == 'Heat' ? '#0000ff' : '#00ffff'"}}}
     },
     "layer": [
       {"transform": [{"filter": "datum.k == 'dot'"}], "mark": {"type": "circle", "size": 18, "opacity": 1, "clip": true}},
       {"transform": [{"filter": "datum.k == 'mean'"}], "mark": {"type": "line", "strokeWidth": 3.4, "clip": true}},
       {"transform": [{"filter": "datum.k == 'fit'"}], "mark": {"type": "line", "interpolate": "monotone", "strokeWidth": 3.4, "clip": true}, "encoding": {"strokeDash": {"field": "g", "type": "nominal", "scale": {"domain": ["Control", "Cold", "Heat", "Salt"], "range": [[11, 5], [2.5, 3.5], [2.5, 4, 11, 4], [18, 6]]}, "legend": null}}}
     ]},
    {"title": {"text": "Cluster 5", "offset": 40}, "width": 375, "height": 277, "transform": [{"filter": "datum.c == 5"}],
     "encoding": {
       "x": {"field": "t", "type": "quantitative", "scale": {"domain": [1.72, 36.6], "nice": false, "zero": false}, "axis": {"values": [3, 9, 27], "title": ["time", "Median profile of\u00a0 14\u00a0 genes"]}},
       "y": {"field": "v", "type": "quantitative", "scale": {"domain": [-0.605, 0.65], "nice": false, "zero": false}, "axis": {"title": "Expression value", "values": [-0.6, -0.4, -0.2, 0, 0.2, 0.4, 0.6], "format": ".1f", "labelExpr": "datum.value == -0.6 || datum.value == -0.2 || datum.value == 0.2 || datum.value == 0.6 ? datum.label : ''"}},
       "color": {"field": "g", "type": "nominal", "scale": {"domain": ["Control", "Cold", "Heat", "Salt"], "range": ["#ff0000", "#00cd00", "#0000ff", "#00ffff"]}, "legend": {"title": null, "labelColor": {"expr": "datum.value == 'Control' ? '#ff0000' : datum.value == 'Cold' ? '#00cd00' : datum.value == 'Heat' ? '#0000ff' : '#00ffff'"}}}
     },
     "layer": [
       {"transform": [{"filter": "datum.k == 'dot'"}], "mark": {"type": "circle", "size": 18, "opacity": 1, "clip": true}},
       {"transform": [{"filter": "datum.k == 'mean'"}], "mark": {"type": "line", "strokeWidth": 3.4, "clip": true}},
       {"transform": [{"filter": "datum.k == 'fit'"}], "mark": {"type": "line", "interpolate": "monotone", "strokeWidth": 3.4, "clip": true}, "encoding": {"strokeDash": {"field": "g", "type": "nominal", "scale": {"domain": ["Control", "Cold", "Heat", "Salt"], "range": [[11, 5], [2.5, 3.5], [2.5, 4, 11, 4], [18, 6]]}, "legend": null}}}
     ]},
    {"title": "Cluster 6", "width": 375, "height": 277, "transform": [{"filter": "datum.c == 6"}],
     "encoding": {
       "x": {"field": "t", "type": "quantitative", "scale": {"domain": [1.72, 36.6], "nice": false, "zero": false}, "axis": {"values": [3, 9, 27], "title": ["time", "Median profile of\u00a0 22\u00a0 genes"]}},
       "y": {"field": "v", "type": "quantitative", "scale": {"domain": [-0.877, 0.569], "nice": false, "zero": false}, "axis": {"title": "Expression value", "values": [-0.8, -0.6, -0.4, -0.2, 0, 0.2, 0.4], "format": ".1f", "labelExpr": "datum.value == -0.8 || datum.value == -0.2 || datum.value == 0.2 ? datum.label : ''"}},
       "color": {"field": "g", "type": "nominal", "scale": {"domain": ["Control", "Cold", "Heat", "Salt"], "range": ["#ff0000", "#00cd00", "#0000ff", "#00ffff"]}, "legend": {"title": null, "labelColor": {"expr": "datum.value == 'Control' ? '#ff0000' : datum.value == 'Cold' ? '#00cd00' : datum.value == 'Heat' ? '#0000ff' : '#00ffff'"}}}
     },
     "layer": [
       {"transform": [{"filter": "datum.k == 'dot'"}], "mark": {"type": "circle", "size": 18, "opacity": 1, "clip": true}},
       {"transform": [{"filter": "datum.k == 'mean'"}], "mark": {"type": "line", "strokeWidth": 3.4, "clip": true}},
       {"transform": [{"filter": "datum.k == 'fit'"}], "mark": {"type": "line", "interpolate": "monotone", "strokeWidth": 3.4, "clip": true}, "encoding": {"strokeDash": {"field": "g", "type": "nominal", "scale": {"domain": ["Control", "Cold", "Heat", "Salt"], "range": [[11, 5], [2.5, 3.5], [2.5, 4, 11, 4], [18, 6]]}, "legend": null}}}
     ]},
    {"title": "Cluster 7", "width": 375, "height": 277, "transform": [{"filter": "datum.c == 7"}],
     "encoding": {
       "x": {"field": "t", "type": "quantitative", "scale": {"domain": [1.72, 36.6], "nice": false, "zero": false}, "axis": {"values": [3, 9, 27], "title": "time"}},
       "y": {"field": "v", "type": "quantitative", "scale": {"domain": [-1.182, 0.276], "nice": false, "zero": false}, "axis": {"title": "Expression value", "values": [-1.0, -0.8, -0.6, -0.4, -0.2, 0, 0.2], "format": ".1f", "labelExpr": "datum.value == -1 || datum.value == -0.4 || datum.value == 0 ? datum.label : ''"}},
       "color": {"field": "g", "type": "nominal", "scale": {"domain": ["Control", "Cold", "Heat", "Salt"], "range": ["#ff0000", "#00cd00", "#0000ff", "#00ffff"]}, "legend": {"title": null, "labelColor": {"expr": "datum.value == 'Control' ? '#ff0000' : datum.value == 'Cold' ? '#00cd00' : datum.value == 'Heat' ? '#0000ff' : '#00ffff'"}}}
     },
     "layer": [
       {"transform": [{"filter": "datum.k == 'dot'"}], "mark": {"type": "circle", "size": 18, "opacity": 1, "clip": true}},
       {"transform": [{"filter": "datum.k == 'mean'"}], "mark": {"type": "line", "strokeWidth": 3.4, "clip": true}},
       {"transform": [{"filter": "datum.k == 'fit'"}], "mark": {"type": "line", "interpolate": "monotone", "strokeWidth": 3.4, "clip": true}, "encoding": {"strokeDash": {"field": "g", "type": "nominal", "scale": {"domain": ["Control", "Cold", "Heat", "Salt"], "range": [[11, 5], [2.5, 3.5], [2.5, 4, 11, 4], [18, 6]]}, "legend": null}}}
     ]},
    {"title": "Cluster 8", "width": 375, "height": 277, "transform": [{"filter": "datum.c == 8"}],
     "encoding": {
       "x": {"field": "t", "type": "quantitative", "scale": {"domain": [1.72, 36.6], "nice": false, "zero": false}, "axis": {"values": [3, 9, 27], "title": "time"}},
       "y": {"field": "v", "type": "quantitative", "scale": {"domain": [-0.863, 0.243], "nice": false, "zero": false}, "axis": {"title": "Expression value", "values": [-0.8, -0.6, -0.4, -0.2, 0, 0.2], "format": ".1f", "labelExpr": "datum.value == -0.8 || datum.value == -0.4 || datum.value == 0 ? datum.label : ''"}},
       "color": {"field": "g", "type": "nominal", "scale": {"domain": ["Control", "Cold", "Heat", "Salt"], "range": ["#ff0000", "#00cd00", "#0000ff", "#00ffff"]}, "legend": {"title": null, "labelColor": {"expr": "datum.value == 'Control' ? '#ff0000' : datum.value == 'Cold' ? '#00cd00' : datum.value == 'Heat' ? '#0000ff' : '#00ffff'"}}}
     },
     "layer": [
       {"transform": [{"filter": "datum.k == 'dot'"}], "mark": {"type": "circle", "size": 18, "opacity": 1, "clip": true}},
       {"transform": [{"filter": "datum.k == 'mean'"}], "mark": {"type": "line", "strokeWidth": 3.4, "clip": true}},
       {"transform": [{"filter": "datum.k == 'fit'"}], "mark": {"type": "line", "interpolate": "monotone", "strokeWidth": 3.4, "clip": true}, "encoding": {"strokeDash": {"field": "g", "type": "nominal", "scale": {"domain": ["Control", "Cold", "Heat", "Salt"], "range": [[11, 5], [2.5, 3.5], [2.5, 4, 11, 4], [18, 6]]}, "legend": null}}}
     ]},
    {"title": {"text": "Cluster 9", "offset": 30}, "width": 375, "height": 277, "transform": [{"filter": "datum.c == 9"}],
     "encoding": {
       "x": {"field": "t", "type": "quantitative", "scale": {"domain": [1.72, 36.6], "nice": false, "zero": false}, "axis": {"values": [3, 9, 27], "title": "time"}},
       "y": {"field": "v", "type": "quantitative", "scale": {"domain": [-0.416, 0.402], "nice": false, "zero": false}, "axis": {"title": "Expression value", "values": [-0.4, -0.2, 0, 0.2, 0.4], "format": ".1f", "labelExpr": "datum.value == -0.4 || datum.value == 0 || datum.value == 0.2 || datum.value == 0.4 ? datum.label : ''"}},
       "color": {"field": "g", "type": "nominal", "scale": {"domain": ["Control", "Cold", "Heat", "Salt"], "range": ["#ff0000", "#00cd00", "#0000ff", "#00ffff"]}, "legend": {"title": null, "labelColor": {"expr": "datum.value == 'Control' ? '#ff0000' : datum.value == 'Cold' ? '#00cd00' : datum.value == 'Heat' ? '#0000ff' : '#00ffff'"}}}
     },
     "layer": [
       {"transform": [{"filter": "datum.k == 'dot'"}], "mark": {"type": "circle", "size": 18, "opacity": 1, "clip": true}},
       {"transform": [{"filter": "datum.k == 'mean'"}], "mark": {"type": "line", "strokeWidth": 3.4, "clip": true}},
       {"transform": [{"filter": "datum.k == 'fit'"}], "mark": {"type": "line", "interpolate": "monotone", "strokeWidth": 3.4, "clip": true}, "encoding": {"strokeDash": {"field": "g", "type": "nominal", "scale": {"domain": ["Control", "Cold", "Heat", "Salt"], "range": [[11, 5], [2.5, 3.5], [2.5, 4, 11, 4], [18, 6]]}, "legend": null}}}
     ]}
  ]
}
